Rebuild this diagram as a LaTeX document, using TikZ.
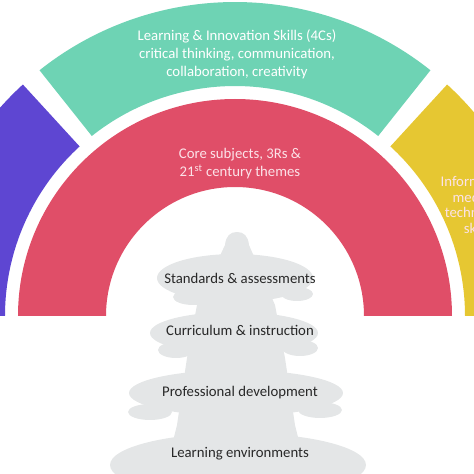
\documentclass[tikz,border=0pt]{standalone}
\usepackage{fontspec}
\setmainfont{Carlito}

\definecolor{coreRed}{RGB}{224,78,104}
\definecolor{skillGreen}{RGB}{110,211,180}
\definecolor{lifePurple}{RGB}{94,70,210}
\definecolor{infoYellow}{RGB}{230,199,50}
\definecolor{treeGray}{RGB}{228,230,231}
\definecolor{tierText}{RGB}{40,40,40}
\definecolor{lightPink}{RGB}{252,226,232}

\tikzset{
  bandtext/.style={align=center, font=\fontsize{10.5}{12.8}\selectfont},
  tiertext/.style={text=tierText, font=\fontsize{10.5}{12.8}\selectfont},
}

\begin{document}
\begin{tikzpicture}[x=0.025cm,y=0.025cm] %Arcos y arbol del marco
            \useasboundingbox (-235,-158) rectangle (239,316);

            \fill[coreRed] (0:217) arc[start angle=0,end angle=180,radius=217]
                -- (180:129) arc[start angle=180,end angle=0,radius=129] -- cycle;

            \fill[lifePurple] (132.5:314) arc[start angle=132.5,end angle=180,radius=314]
                -- (180:230) arc[start angle=180,end angle=132.5,radius=230] -- cycle;
            \fill[skillGreen] (51.5:314) arc[start angle=51.5,end angle=128.5,radius=314]
                -- (128.5:230) arc[start angle=128.5,end angle=51.5,radius=230] -- cycle;
            \fill[infoYellow] (0:314) arc[start angle=0,end angle=47.5,radius=314]
                -- (47.5:230) arc[start angle=47.5,end angle=0,radius=230] -- cycle;

            \fill[treeGray] (-70,-158) -- (-58,-109) -- (-48,-42) -- (-38,11) -- (-10,71)
                .. controls (-9,80) and (-5,84) .. (2,84) .. controls (9,84) and (13,80) .. (14,71)
                -- (40,11) -- (50,-42) -- (60,-109) -- (72,-158) -- cycle;
            \fill[treeGray] (0,38) ellipse (78 and 24);
            \fill[treeGray] (-1,-17) ellipse (84 and 21);
            \fill[treeGray] (1,-77) ellipse (107 and 23);
            \fill[treeGray] (3,-149) ellipse (128 and 32);
            \fill[treeGray] (-42,19) ellipse (20 and 8);
            \fill[treeGray] (62,22) ellipse (16 and 7);
            \fill[treeGray] (-59,-34) ellipse (18 and 8);
            \fill[treeGray] (65,-32) ellipse (18 and 8);
            \fill[treeGray] (-85,-96) ellipse (22 and 8);
            \fill[treeGray] (85,-94) ellipse (22 and 8);

            \node[bandtext, text=white] (skills) at (2,262)
                {Learning \& Innovation Skills (4Cs)\\critical thinking, communication,\\collaboration, creativity};
            \node[bandtext, text=lightPink] (core) at (5,152)
                {Core subjects, 3Rs \&\\21\textsuperscript{st} century themes};
            \node[bandtext, text=lightPink, font=\fontsize{10.5}{11.2}\selectfont] (media) at (243,111)
                {Information,\\media \&\\technology\\skills};

            \node[tiertext] (standards) at (5,38) {Standards \& assessments};
            \node[tiertext] (curriculum) at (5,-14) {Curriculum \& instruction};
            \node[tiertext] (development) at (5,-77) {Professional development};
            \node[tiertext] (environments) at (5,-138) {Learning environments};
        \end{tikzpicture}
\end{document}
